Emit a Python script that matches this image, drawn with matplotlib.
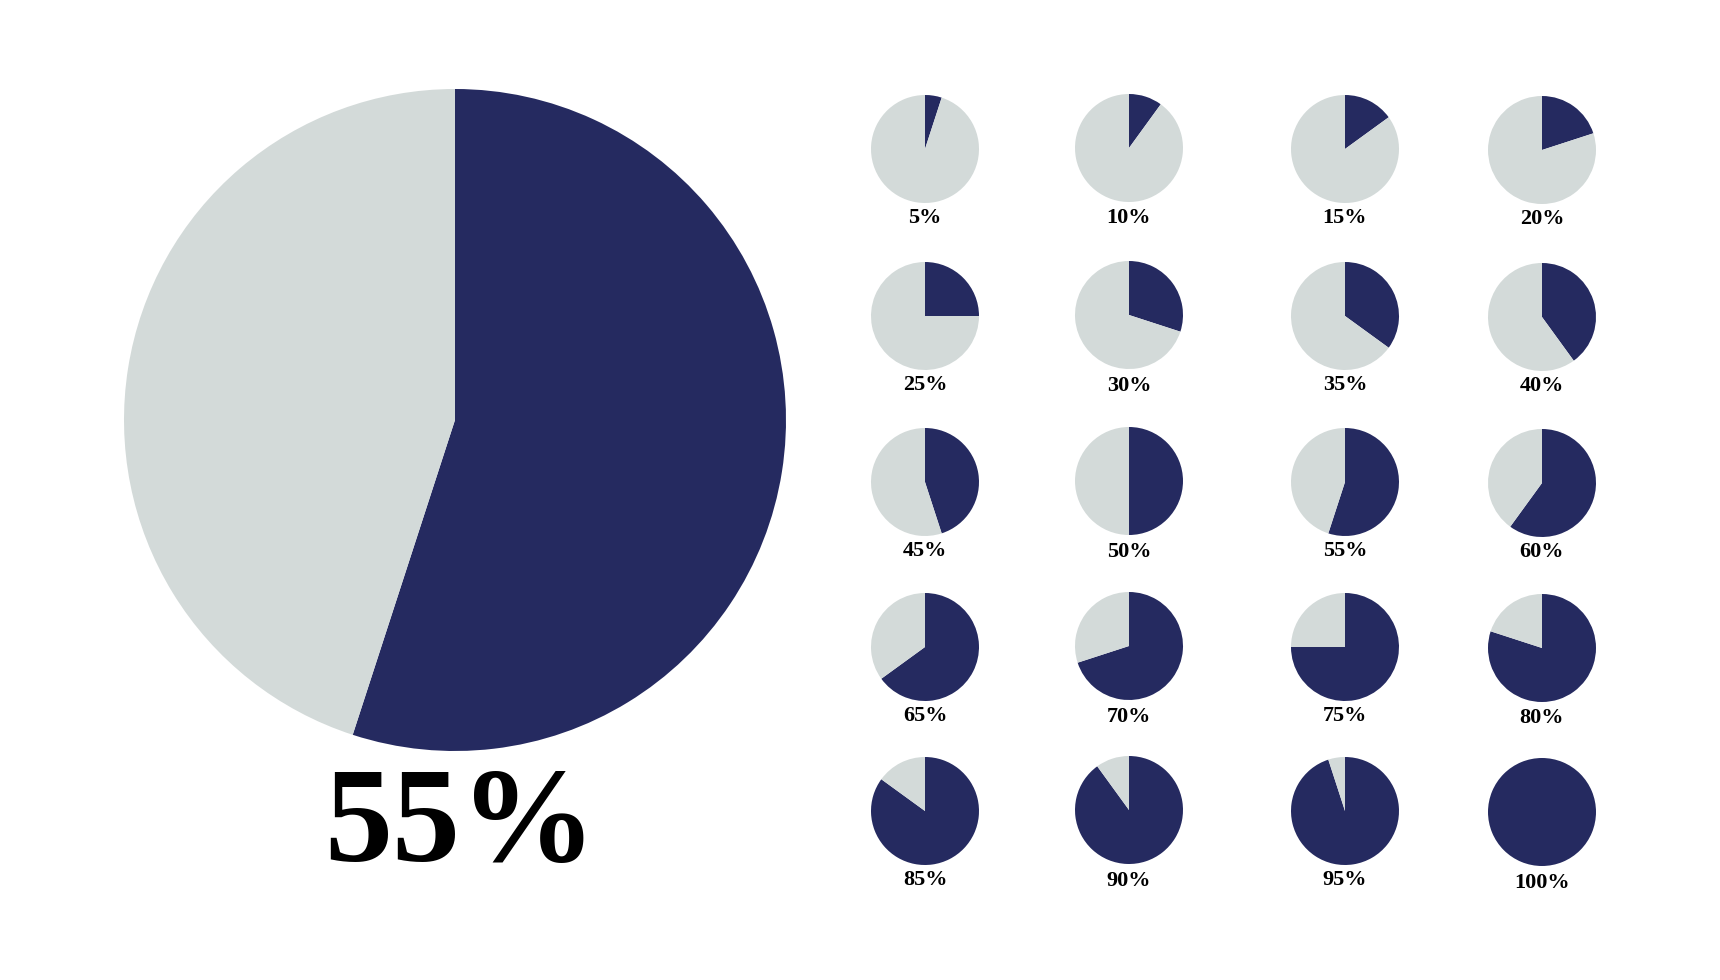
import matplotlib.pyplot as plt

# --- data ---
big_value = 55
small_values = [5, 10, 15, 20,
                25, 30, 35, 40,
                45, 50, 55, 60,
                65, 70, 75, 80,
                85, 90, 95, 100]

# --- layout in pixels ---
W, H = 1720, 980
col_x = [925, 1129, 1345, 1542]
row_y = [149, 316, 482, 647, 811]
col_dy = [0, -1, 0, 1]
label_dy = [[0, 0, 0, 1], [0, 1, 0, 1], [0, 1, 0, 1], [0, 1, 0, 2], [0, 1, 0, 3]]

navy = '#252A60'
gray = '#D3DAD9'

fig = plt.figure(figsize=(W / 100, H / 100), dpi=100)
ax = fig.add_axes([0, 0, 1, 1])


def draw_pie(value, x, y, r):
    ax.pie([value, 100 - value], colors=[navy, gray], startangle=90,
           counterclock=False, center=(x, H - y), radius=r)


# big pie
draw_pie(big_value, 455, 420, 331)
ax.text(460, H - 861, f"{big_value}%", ha='center', va='baseline', fontsize=98,
        fontweight='bold', family='Liberation Serif', color='black')

# small pies
for i, v in enumerate(small_values):
    row, col = divmod(i, 4)
    x = col_x[col]
    y = row_y[row] + col_dy[col]
    draw_pie(v, x, y, 54)
    ax.text(x, H - (row_y[row] + 74 + label_dy[row][col]), f"{v}%", ha='center', va='baseline',
            fontsize=16, fontweight='bold', family='Liberation Serif', color='black')

ax.set_xlim(0, W)
ax.set_ylim(0, H)
ax.set_aspect('equal')
ax.axis('off')

fig.savefig('out.png', dpi=100, facecolor='white')
